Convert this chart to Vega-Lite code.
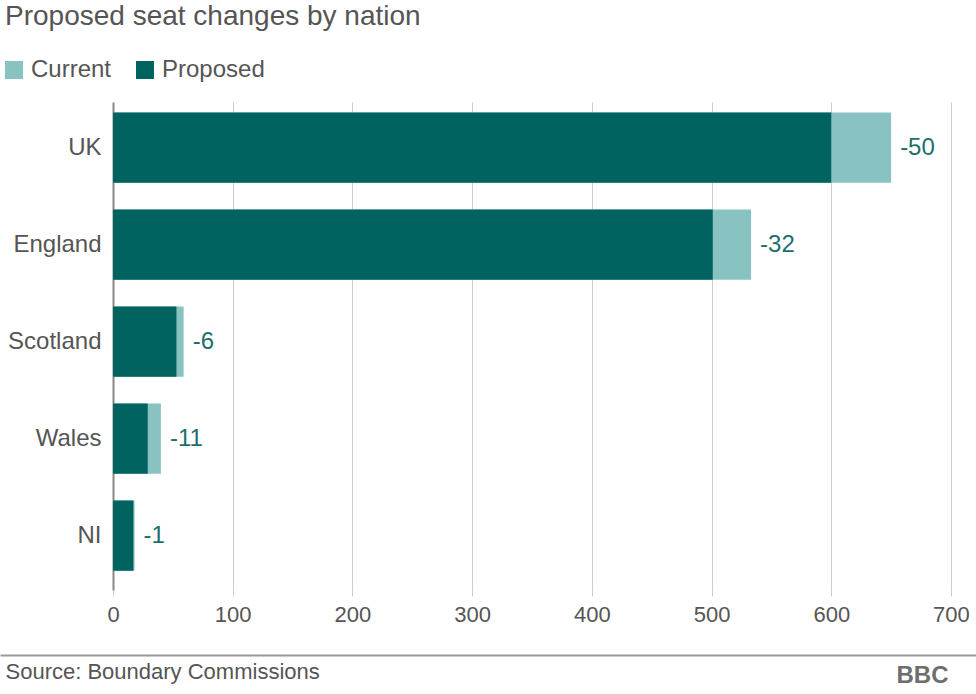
{
  "$schema": "https://vega.github.io/schema/vega-lite/v6.json",
  "width": 976,
  "height": 488,
  "autosize": {"type": "none"},
  "padding": {"left": 0, "top": 102, "right": 0, "bottom": 104},
  "background": "white",
  "config": {"font": "Liberation Sans", "view": {"stroke": null}},
  "title": {
    "text": "Proposed seat changes by nation",
    "anchor": "start",
    "frame": "group",
    "dx": 5,
    "offset": 5,
    "baseline": "alphabetic",
    "fontSize": 28,
    "fontWeight": "normal",
    "color": "#555555",
    "font": "Liberation Sans"
  },
  "data": {
    "values": [
      {"nation": "UK", "Current": 650, "Proposed": 600, "change": "-50"},
      {"nation": "England", "Current": 533, "Proposed": 501, "change": "-32"},
      {"nation": "Scotland", "Current": 59, "Proposed": 53, "change": "-6"},
      {"nation": "Wales", "Current": 40, "Proposed": 29, "change": "-11"},
      {"nation": "NI", "Current": 18, "Proposed": 17, "change": "-1"}
    ]
  },
  "layer": [
    {
      "transform": [{"fold": ["Current", "Proposed"], "as": ["type", "seats"]}],
      "mark": {"type": "bar"},
      "encoding": {
        "y": {
          "field": "nation",
          "type": "nominal",
          "sort": ["UK", "England", "Scotland", "Wales", "NI"],
          "scale": {"paddingInner": 0.275, "paddingOuter": 0.153, "align": 0.355},
          "axis": {
            "title": null,
            "orient": "left",
            "offset": -113,
            "ticks": false,
            "domainColor": "#888888",
            "domainWidth": 2,
            "labelFontSize": 24,
            "labelColor": "#555555",
            "labelPadding": 12,
            "labelFont": "Liberation Sans"
          }
        },
        "x": {
          "field": "seats",
          "type": "quantitative",
          "stack": null,
          "scale": {"domain": [-94.4, 720.9], "nice": false, "zero": false},
          "axis": {
            "values": [0, 100, 200, 300, 400, 500, 600, 700],
            "grid": true,
            "gridColor": "#cccccc",
            "gridWidth": 1,
            "domain": false,
            "tickColor": "#cccccc",
            "tickSize": 6,
            "labelFontSize": 22,
            "labelColor": "#555555",
            "labelPadding": 8,
            "labelFont": "Liberation Sans",
            "title": "BBC",
            "titleX": 948,
            "titleY": 92,
            "titleAlign": "right",
            "titleBaseline": "alphabetic",
            "titleFontSize": 24,
            "titleFontWeight": "bold",
            "titleColor": "#6e6e6e",
            "titleFont": "Liberation Sans"
          }
        },
        "color": {
          "field": "type",
          "type": "nominal",
          "scale": {"domain": ["Current", "Proposed"], "range": ["#88c3c2", "#006360"]},
          "legend": {
            "orient": "none",
            "legendX": 2,
            "legendY": -44,
            "direction": "horizontal",
            "title": null,
            "symbolType": "square",
            "symbolSize": 324,
            "symbolStrokeWidth": 0,
            "symbolOpacity": 1,
            "labelFontSize": 24,
            "labelColor": "#555555",
            "labelOffset": 5,
            "columnPadding": 21,
            "labelFont": "Liberation Sans"
          }
        }
      }
    },
    {
      "mark": {"type": "text", "align": "left", "baseline": "middle", "dx": 9, "fontSize": 24, "color": "#1d6f6d", "font": "Liberation Sans"},
      "encoding": {
        "y": {"field": "nation", "type": "nominal", "sort": ["UK", "England", "Scotland", "Wales", "NI"]},
        "x": {
          "field": "Current",
          "type": "quantitative",
          "scale": {"domain": [-94.4, 720.9], "nice": false, "zero": false},
          "axis": {
            "orient": "bottom",
            "offset": 65,
            "grid": false,
            "labels": false,
            "ticks": false,
            "domain": true,
            "domainColor": "#999999",
            "domainWidth": 2,
            "title": "Source: Boundary Commissions",
            "titleX": 5,
            "titleY": 23,
            "titleAlign": "left",
            "titleBaseline": "alphabetic",
            "titleFontSize": 22,
            "titleFontWeight": "normal",
            "titleColor": "#555555",
            "titleFont": "Liberation Sans"
          }
        },
        "text": {"field": "change", "type": "nominal"}
      }
    }
  ],
  "resolve": {"axis": {"x": "independent"}}
}
